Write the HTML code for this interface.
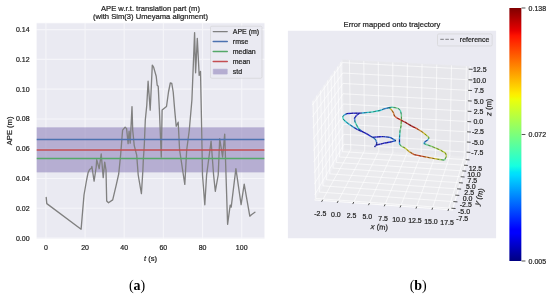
<!DOCTYPE html>
<html><head><meta charset="utf-8"><style>
html,body{margin:0;padding:0;background:#fff;}
body{width:550px;height:297px;overflow:hidden;}
svg{display:block;}
svg text{stroke:#262626;stroke-width:0.35px;stroke-linejoin:round;}
</style></head><body>
 <svg width="550" height="297" viewBox="0 0 866.141732 467.716535" version="1.1"> <defs> <style type="text/css">*{stroke-linejoin: round; stroke-linecap: butt}</style> </defs> <g id="figure_1"> <g id="patch_1"> <path d="M 0 467.716535 L 866.141732 467.716535 L 866.141732 0 L 0 0 z " style="fill: #ffffff"/> </g> <g id="axes_1"> <g id="patch_2"> <path d="M 57.007874 376.377953 L 417.165354 376.377953 L 417.165354 35.905512 L 57.007874 35.905512 z " style="fill: #eaeaf2"/> </g> <g id="matplotlib.axis_1"> <g id="xtick_1"> <g id="line2d_1"> <path d="M 72.283465 376.377953 L 72.283465 35.905512 " clip-path="url(#p8323243741)" style="fill: none; stroke: #f5f5f9; stroke-width: 1.7; stroke-linecap: round"/> </g> <g id="text_1"> <text style="font-size: 11px; font-family: 'Liberation Sans', sans-serif; text-anchor: middle; fill: #262626" x="72.283465" y="393.849515" transform="rotate(-0 72.283465 393.849515)">0</text> </g> </g> <g id="xtick_2"> <g id="line2d_2"> <path d="M 133.952756 376.377953 L 133.952756 35.905512 " clip-path="url(#p8323243741)" style="fill: none; stroke: #f5f5f9; stroke-width: 1.7; stroke-linecap: round"/> </g> <g id="text_2"> <text style="font-size: 11px; font-family: 'Liberation Sans', sans-serif; text-anchor: middle; fill: #262626" x="133.952756" y="393.849515" transform="rotate(-0 133.952756 393.849515)">20</text> </g> </g> <g id="xtick_3"> <g id="line2d_3"> <path d="M 195.622047 376.377953 L 195.622047 35.905512 " clip-path="url(#p8323243741)" style="fill: none; stroke: #f5f5f9; stroke-width: 1.7; stroke-linecap: round"/> </g> <g id="text_3"> <text style="font-size: 11px; font-family: 'Liberation Sans', sans-serif; text-anchor: middle; fill: #262626" x="195.622047" y="393.849515" transform="rotate(-0 195.622047 393.849515)">40</text> </g> </g> <g id="xtick_4"> <g id="line2d_4"> <path d="M 257.291339 376.377953 L 257.291339 35.905512 " clip-path="url(#p8323243741)" style="fill: none; stroke: #f5f5f9; stroke-width: 1.7; stroke-linecap: round"/> </g> <g id="text_4"> <text style="font-size: 11px; font-family: 'Liberation Sans', sans-serif; text-anchor: middle; fill: #262626" x="257.291339" y="393.849515" transform="rotate(-0 257.291339 393.849515)">60</text> </g> </g> <g id="xtick_5"> <g id="line2d_5"> <path d="M 318.96063 376.377953 L 318.96063 35.905512 " clip-path="url(#p8323243741)" style="fill: none; stroke: #f5f5f9; stroke-width: 1.7; stroke-linecap: round"/> </g> <g id="text_5"> <text style="font-size: 11px; font-family: 'Liberation Sans', sans-serif; text-anchor: middle; fill: #262626" x="318.96063" y="393.849515" transform="rotate(-0 318.96063 393.849515)">80</text> </g> </g> <g id="xtick_6"> <g id="line2d_6"> <path d="M 380.629921 376.377953 L 380.629921 35.905512 " clip-path="url(#p8323243741)" style="fill: none; stroke: #f5f5f9; stroke-width: 1.7; stroke-linecap: round"/> </g> <g id="text_6"> <text style="font-size: 11px; font-family: 'Liberation Sans', sans-serif; text-anchor: middle; fill: #262626" x="380.629921" y="393.849515" transform="rotate(-0 380.629921 393.849515)">100</text> </g> </g> <g id="text_7"> <!-- $t$ (s) --> <g style="fill: #262626" transform="translate(226.706614 411.292015)"> <text> <tspan x="0" y="-0.296875" style="font-style: italic; font-size: 12px; font-family: 'Liberation Sans', sans-serif; fill: #262626">t</tspan> <tspan x="3.333984" y="-0.296875" style="font-size: 12px; font-family: 'Liberation Sans', sans-serif; fill: #262626"> </tspan> <tspan x="6.667969" y="-0.296875" style="font-size: 12px; font-family: 'Liberation Sans', sans-serif; fill: #262626">(</tspan> <tspan x="10.664062" y="-0.296875" style="font-size: 12px; font-family: 'Liberation Sans', sans-serif; fill: #262626">s</tspan> <tspan x="16.664062" y="-0.296875" style="font-size: 12px; font-family: 'Liberation Sans', sans-serif; fill: #262626">)</tspan> </text> </g> </g> </g> <g id="matplotlib.axis_2"> <g id="ytick_1"> <g id="line2d_7"> <path d="M 57.007874 374.88189 L 417.165354 374.88189 " clip-path="url(#p8323243741)" style="fill: none; stroke: #f5f5f9; stroke-width: 1.7; stroke-linecap: round"/> </g> <g id="text_8"> <text style="font-size: 11px; font-family: 'Liberation Sans', sans-serif; text-anchor: end; fill: #262626" x="46.507874" y="378.867671" transform="rotate(-0 46.507874 378.867671)">0.00</text> </g> </g> <g id="ytick_2"> <g id="line2d_8"> <path d="M 57.007874 327.986502 L 417.165354 327.986502 " clip-path="url(#p8323243741)" style="fill: none; stroke: #f5f5f9; stroke-width: 1.7; stroke-linecap: round"/> </g> <g id="text_9"> <text style="font-size: 11px; font-family: 'Liberation Sans', sans-serif; text-anchor: end; fill: #262626" x="46.507874" y="331.972283" transform="rotate(-0 46.507874 331.972283)">0.02</text> </g> </g> <g id="ytick_3"> <g id="line2d_9"> <path d="M 57.007874 281.091114 L 417.165354 281.091114 " clip-path="url(#p8323243741)" style="fill: none; stroke: #f5f5f9; stroke-width: 1.7; stroke-linecap: round"/> </g> <g id="text_10"> <text style="font-size: 11px; font-family: 'Liberation Sans', sans-serif; text-anchor: end; fill: #262626" x="46.507874" y="285.076895" transform="rotate(-0 46.507874 285.076895)">0.04</text> </g> </g> <g id="ytick_4"> <g id="line2d_10"> <path d="M 57.007874 234.195726 L 417.165354 234.195726 " clip-path="url(#p8323243741)" style="fill: none; stroke: #f5f5f9; stroke-width: 1.7; stroke-linecap: round"/> </g> <g id="text_11"> <text style="font-size: 11px; font-family: 'Liberation Sans', sans-serif; text-anchor: end; fill: #262626" x="46.507874" y="238.181507" transform="rotate(-0 46.507874 238.181507)">0.06</text> </g> </g> <g id="ytick_5"> <g id="line2d_11"> <path d="M 57.007874 187.300337 L 417.165354 187.300337 " clip-path="url(#p8323243741)" style="fill: none; stroke: #f5f5f9; stroke-width: 1.7; stroke-linecap: round"/> </g> <g id="text_12"> <text style="font-size: 11px; font-family: 'Liberation Sans', sans-serif; text-anchor: end; fill: #262626" x="46.507874" y="191.286119" transform="rotate(-0 46.507874 191.286119)">0.08</text> </g> </g> <g id="ytick_6"> <g id="line2d_12"> <path d="M 57.007874 140.404949 L 417.165354 140.404949 " clip-path="url(#p8323243741)" style="fill: none; stroke: #f5f5f9; stroke-width: 1.7; stroke-linecap: round"/> </g> <g id="text_13"> <text style="font-size: 11px; font-family: 'Liberation Sans', sans-serif; text-anchor: end; fill: #262626" x="46.507874" y="144.390731" transform="rotate(-0 46.507874 144.390731)">0.10</text> </g> </g> <g id="ytick_7"> <g id="line2d_13"> <path d="M 57.007874 93.509561 L 417.165354 93.509561 " clip-path="url(#p8323243741)" style="fill: none; stroke: #f5f5f9; stroke-width: 1.7; stroke-linecap: round"/> </g> <g id="text_14"> <text style="font-size: 11px; font-family: 'Liberation Sans', sans-serif; text-anchor: end; fill: #262626" x="46.507874" y="97.495343" transform="rotate(-0 46.507874 97.495343)">0.12</text> </g> </g> <g id="ytick_8"> <g id="line2d_14"> <path d="M 57.007874 46.614173 L 417.165354 46.614173 " clip-path="url(#p8323243741)" style="fill: none; stroke: #f5f5f9; stroke-width: 1.7; stroke-linecap: round"/> </g> <g id="text_15"> <text style="font-size: 11px; font-family: 'Liberation Sans', sans-serif; text-anchor: end; fill: #262626" x="46.507874" y="50.599954" transform="rotate(-0 46.507874 50.599954)">0.14</text> </g> </g> <g id="text_16"> <text style="font-size: 12px; font-family: 'Liberation Sans', sans-serif; text-anchor: middle; fill: #262626" x="18.610843" y="206.141732" transform="rotate(-90 18.610843 206.141732)">APE (m)</text> </g> </g> <g id="patch_3"> <path d="M 57.007874 271.023622 L 417.165354 271.023622 L 417.165354 201.102362 L 57.007874 201.102362 z " clip-path="url(#p8323243741)" style="fill: #8172b2; opacity: 0.5; stroke: #8172b2; stroke-linejoin: miter"/> </g> <g id="line2d_15"> <path d="M 72.755906 310.866142 L 73.700787 320.629921 L 127.716535 360.944882 L 132.283465 307.086614 L 136.377953 283.464567 L 138.740157 271.811024 L 141.102362 266.929134 L 144.251969 264.566929 L 144.724409 262.204724 L 148.188976 285.354331 L 151.496063 262.992126 L 152.283465 251.338583 L 156.220472 265.669291 L 159.370079 242.519685 L 162.519685 279.685039 L 164.88189 255.275591 L 166.929134 267.716535 L 168.031496 316.535433 L 170.866142 319.370079 L 177.480315 314.80315 L 182.992126 291.653543 L 186.929134 274.015748 L 188.188976 261.732283 L 189.92126 244.251969 L 193.070866 204.88189 L 197.007874 200.15748 L 199.370079 202.519685 L 201.732283 226.299213 L 203.307087 206.456693 L 205.03937 225.511811 L 207.874016 167.874016 L 208.976378 204.88189 L 211.338583 228.818898 L 215.275591 244.251969 L 217.637795 275.590551 L 222.677165 305.03937 L 225.03937 267.716535 L 225.669291 252.283465 L 227.244094 228.346457 L 228.818898 188.976378 L 231.181102 165.511811 L 233.228346 127.874016 L 236.535433 173.543307 L 239.84252 102.519685 L 241.889764 105.669291 L 245.984252 120 L 247.559055 134.330709 L 249.133858 135.905512 L 251.023622 173.228346 L 254.015748 247.559055 L 255.275591 173.385827 L 262.204724 167.716535 L 265.354331 144.88189 L 268.188976 130.708661 L 270.551181 131.496063 L 272.755906 144.88189 L 275.11811 173.385827 L 277.480315 198.897638 L 280.629921 192.440945 L 282.834646 236.220472 L 291.023622 290.393701 L 294.015748 236.220472 L 298.110236 204.724409 L 302.204724 157.480315 L 306.456693 51.338583 L 308.031496 114.645669 L 310.708661 60.472441 L 313.700787 118.740157 L 315.748031 112.598425 L 317.637795 204.724409 L 318.897638 275.590551 L 322.519685 322.519685 L 325.354331 275.590551 L 332.440945 222.362205 L 336.377953 275.590551 L 339.055118 301.259843 L 343.622047 275.590551 L 345.984252 218.425197 L 350.551181 247.244094 L 353.858268 211.181102 L 358.425197 353.228346 L 362.519685 322.992126 L 364.094488 326.141732 L 371.496063 265.669291 L 379.685039 322.204724 L 384.566929 290.07874 L 393.385827 340.472441 L 395.905512 338.110236 L 401.417323 334.173228 " clip-path="url(#p8323243741)" style="fill: none; stroke: #808080; stroke-width: 2.1; stroke-linecap: round"/> </g> <g id="line2d_16"> <path d="M 57.007874 219.527559 L 417.165354 219.527559 " clip-path="url(#p8323243741)" style="fill: none; stroke: #4c72b0; stroke-width: 2.4; stroke-linecap: round"/> </g> <g id="line2d_17"> <path d="M 57.007874 249.76378 L 417.165354 249.76378 " clip-path="url(#p8323243741)" style="fill: none; stroke: #55a868; stroke-width: 2.4; stroke-linecap: round"/> </g> <g id="line2d_18"> <path d="M 57.007874 236.220472 L 417.165354 236.220472 " clip-path="url(#p8323243741)" style="fill: none; stroke: #c44e52; stroke-width: 2.4; stroke-linecap: round"/> </g> <g id="patch_4"> <path d="M 57.007874 376.377953 L 57.007874 35.905512 " style="fill: none; stroke: #ffffff; stroke-width: 1.25; stroke-linejoin: miter; stroke-linecap: square"/> </g> <g id="patch_5"> <path d="M 417.165354 376.377953 L 417.165354 35.905512 " style="fill: none; stroke: #ffffff; stroke-width: 1.25; stroke-linejoin: miter; stroke-linecap: square"/> </g> <g id="patch_6"> <path d="M 57.007874 376.377953 L 417.165354 376.377953 " style="fill: none; stroke: #ffffff; stroke-width: 1.25; stroke-linejoin: miter; stroke-linecap: square"/> </g> <g id="patch_7"> <path d="M 57.007874 35.905512 L 417.165354 35.905512 " style="fill: none; stroke: #ffffff; stroke-width: 1.25; stroke-linejoin: miter; stroke-linecap: square"/> </g> <g id="text_17"> <text style="font-size: 12px; font-family: 'Liberation Sans', sans-serif; fill: #262626" transform="translate(159.062239 16.980012)">APE w.r.t. translation part (m)</text> <text style="font-size: 12px; font-family: 'Liberation Sans', sans-serif; fill: #262626" transform="translate(146.403177 29.905512)">(with Sim(3) Umeyama alignment)</text> </g> <g id="legend_1"> <g id="patch_8"> <path d="M 333.645826 123.305588 L 410.401764 123.305588 Q 412.601764 123.305588 412.601764 121.105588 L 412.601764 43.435276 Q 412.601764 41.235276 410.401764 41.235276 L 333.645826 41.235276 Q 331.445826 41.235276 331.445826 43.435276 L 331.445826 121.105588 Q 331.445826 123.305588 333.645826 123.305588 z " style="fill: #eaeaf2; opacity: 0.8; stroke: #cccccc; stroke-linejoin: miter"/> </g> <g id="line2d_19"> <path d="M 335.845826 49.756838 L 346.845826 49.756838 L 357.845826 49.756838 " style="fill: none; stroke: #808080; stroke-width: 2.1; stroke-linecap: round"/> </g> <g id="text_18"> <text style="font-size: 11px; font-family: 'Liberation Sans', sans-serif; text-anchor: start; fill: #262626" x="366.645826" y="53.606838" transform="rotate(-0 366.645826 53.606838)">APE (m)</text> </g> <g id="line2d_20"> <path d="M 335.845826 65.510901 L 346.845826 65.510901 L 357.845826 65.510901 " style="fill: none; stroke: #4c72b0; stroke-width: 2.4; stroke-linecap: round"/> </g> <g id="text_19"> <text style="font-size: 11px; font-family: 'Liberation Sans', sans-serif; text-anchor: start; fill: #262626" x="366.645826" y="69.360901" transform="rotate(-0 366.645826 69.360901)">rmse</text> </g> <g id="line2d_21"> <path d="M 335.845826 81.264963 L 346.845826 81.264963 L 357.845826 81.264963 " style="fill: none; stroke: #55a868; stroke-width: 2.4; stroke-linecap: round"/> </g> <g id="text_20"> <text style="font-size: 11px; font-family: 'Liberation Sans', sans-serif; text-anchor: start; fill: #262626" x="366.645826" y="85.114963" transform="rotate(-0 366.645826 85.114963)">median</text> </g> <g id="line2d_22"> <path d="M 335.845826 97.019026 L 346.845826 97.019026 L 357.845826 97.019026 " style="fill: none; stroke: #c44e52; stroke-width: 2.4; stroke-linecap: round"/> </g> <g id="text_21"> <text style="font-size: 11px; font-family: 'Liberation Sans', sans-serif; text-anchor: start; fill: #262626" x="366.645826" y="100.869026" transform="rotate(-0 366.645826 100.869026)">mean</text> </g> <g id="patch_9"> <path d="M 335.845826 116.623088 L 357.845826 116.623088 L 357.845826 108.923088 L 335.845826 108.923088 z " style="fill: #8172b2; opacity: 0.5; stroke: #8172b2; stroke-linejoin: miter"/> </g> <g id="text_22"> <text style="font-size: 11px; font-family: 'Liberation Sans', sans-serif; text-anchor: start; fill: #262626" x="366.645826" y="116.623088" transform="rotate(-0 366.645826 116.623088)">std</text> </g> </g> </g> <g id="patch_10"> <path d="M 453.386 375.118 L 781.260 375.118 L 781.260 48.504 L 453.386 48.504 z" style="fill: #eaeaf2"/> </g> <g id="pane3d_1"> <g id="patch_11"> <path d="M 495.856117 314.954941 L 541.794834 234.666477 L 539.334642 94.247458 L 491.526607 160.786179 " style="fill: #f2f2f2; opacity: 0.5; stroke: #f2f2f2; stroke-linejoin: miter"/> </g> </g> <g id="pane3d_2"> <g id="patch_12"> <path d="M 541.794834 234.666477 L 736.777632 247.249135 L 740.383213 104.644501 L 539.334642 94.247458 " style="fill: #e6e6e6; opacity: 0.5; stroke: #e6e6e6; stroke-linejoin: miter"/> </g> </g> <g id="pane3d_3"> <g id="patch_13"> <path d="M 495.856117 314.954941 L 712.531051 330.592542 L 736.777632 247.249135 L 541.794834 234.666477 " style="fill: #ececec; opacity: 0.5; stroke: #ececec; stroke-linejoin: miter"/> </g> </g> <g id="grid3d_1"> <g id="Line3DCollection_1"> <path d="M 507.565978 315.80005 L 552.352603 235.347792 L 550.215209 94.810137 " style="fill: none; stroke: #ffffff"/> <path d="M 531.995956 317.563181 L 574.371547 236.768722 L 572.909452 95.983749 " style="fill: none; stroke: #ffffff"/> <path d="M 556.535582 319.334226 L 596.479181 238.195375 L 595.697931 97.162234 " style="fill: none; stroke: #ffffff"/> <path d="M 581.185595 321.113237 L 618.67604 239.627786 L 618.581235 98.345623 " style="fill: none; stroke: #ffffff"/> <path d="M 605.946743 322.900268 L 640.962666 241.06599 L 641.559956 99.533947 " style="fill: none; stroke: #ffffff"/> <path d="M 630.819778 324.695375 L 663.339604 242.510022 L 664.634693 100.727236 " style="fill: none; stroke: #ffffff"/> <path d="M 655.805461 326.498611 L 685.807405 243.959917 L 687.806048 101.925521 " style="fill: none; stroke: #ffffff"/> <path d="M 680.904558 328.310033 L 708.366623 245.415712 L 711.07463 103.128835 " style="fill: none; stroke: #ffffff"/> <path d="M 706.117844 330.129696 L 731.017817 246.877442 L 734.441052 104.337208 " style="fill: none; stroke: #ffffff"/> </g> </g> <g id="grid3d_2"> <g id="Line3DCollection_2"> <path d="M 492.97271 158.773508 L 497.240961 312.534606 L 713.263415 328.07517 " style="fill: none; stroke: #ffffff"/> <path d="M 498.97039 150.426 L 502.987706 302.49085 L 716.301574 317.632026 " style="fill: none; stroke: #ffffff"/> <path d="M 504.811309 142.29667 L 508.5891 292.701126 L 719.261407 307.458114 " style="fill: none; stroke: #ffffff"/> <path d="M 510.501533 134.377076 L 514.05059 283.155917 L 722.145904 297.543157 " style="fill: none; stroke: #ffffff"/> <path d="M 516.04682 126.659204 L 519.377353 273.846175 L 724.957905 287.877392 " style="fill: none; stroke: #ffffff"/> <path d="M 521.452637 119.135445 L 524.574313 264.763293 L 727.700109 278.451541 " style="fill: none; stroke: #ffffff"/> <path d="M 526.724181 111.798565 L 529.646158 255.89908 L 730.375084 269.256781 " style="fill: none; stroke: #ffffff"/> <path d="M 531.866394 104.641687 L 534.597351 247.245731 L 732.985271 260.284716 " style="fill: none; stroke: #ffffff"/> <path d="M 536.883976 97.658268 L 539.432149 238.795812 L 735.532996 251.527354 " style="fill: none; stroke: #ffffff"/> </g> </g> <g id="grid3d_3"> <g id="Line3DCollection_3"> <path d="M 736.96822 239.711167 L 541.664722 227.240182 L 495.627902 306.828489 " style="fill: none; stroke: #ffffff"/> <path d="M 737.371203 223.772764 L 541.389638 211.539322 L 495.145127 289.637432 " style="fill: none; stroke: #ffffff"/> <path d="M 737.777014 207.722494 L 541.112656 195.730207 L 494.658641 272.314245 " style="fill: none; stroke: #ffffff"/> <path d="M 738.185683 191.559175 L 540.833758 179.811713 L 494.168402 254.857397 " style="fill: none; stroke: #ffffff"/> <path d="M 738.597241 175.281609 L 540.552924 163.782703 L 493.674365 237.265336 " style="fill: none; stroke: #ffffff"/> <path d="M 739.011719 158.888579 L 540.270134 147.64202 L 493.176487 219.536484 " style="fill: none; stroke: #ffffff"/> <path d="M 739.429147 142.378853 L 539.985366 131.388495 L 492.674723 201.669239 " style="fill: none; stroke: #ffffff"/> <path d="M 739.849557 125.75118 L 539.6986 115.020938 L 492.169026 183.661976 " style="fill: none; stroke: #ffffff"/> <path d="M 740.272981 109.004292 L 539.409816 98.538147 L 491.659351 165.513041 " style="fill: none; stroke: #ffffff"/> </g> </g> <g id="axis3d_1"> <g id="line2d_23"> <path d="M 495.856117 314.954941 L 712.531051 330.592542 " style="fill: none; stroke: #ffffff; stroke-width: 1.25; stroke-linecap: round"/> </g> <g id="xtick_7"> <g id="line2d_24"> <path d="M 621.734412 206.690785 " clip-path="url(#p8fb34b0096)" style="fill: none; stroke: #ffffff; stroke-linecap: round"/> </g> <g id="line2d_25"> <path d="M 507.964681 315.083842 L 506.76639 317.236386 " style="fill: none; stroke: #262626; stroke-width: 1.25; stroke-linecap: round"/> </g> <g id="text_23"> <text style="font-size: 11px; font-family: 'Liberation Sans', sans-serif; text-anchor: middle; fill: #262626" x="504.432077" y="340.010138" transform="rotate(-0 504.432077 340.010138)">-2.5</text> </g> </g> <g id="xtick_8"> <g id="line2d_26"> <path d="M 621.734412 206.690785 " clip-path="url(#p8fb34b0096)" style="fill: none; stroke: #ffffff; stroke-linecap: round"/> </g> <g id="line2d_27"> <path d="M 532.373281 316.843764 L 531.239237 319.005962 " style="fill: none; stroke: #262626; stroke-width: 1.25; stroke-linecap: round"/> </g> <g id="text_24"> <text style="font-size: 11px; font-family: 'Liberation Sans', sans-serif; text-anchor: middle; fill: #262626" x="528.989059" y="341.819503" transform="rotate(-0 528.989059 341.819503)">0.0</text> </g> </g> <g id="xtick_9"> <g id="line2d_28"> <path d="M 621.734412 206.690785 " clip-path="url(#p8fb34b0096)" style="fill: none; stroke: #ffffff; stroke-linecap: round"/> </g> <g id="line2d_29"> <path d="M 556.891332 318.611577 L 555.822125 320.783495 " style="fill: none; stroke: #262626; stroke-width: 1.25; stroke-linecap: round"/> </g> <g id="text_25"> <text style="font-size: 11px; font-family: 'Liberation Sans', sans-serif; text-anchor: middle; fill: #262626" x="553.656866" y="343.637034" transform="rotate(-0 553.656866 343.637034)">2.5</text> </g> </g> <g id="xtick_10"> <g id="line2d_30"> <path d="M 621.734412 206.690785 " clip-path="url(#p8fb34b0096)" style="fill: none; stroke: #ffffff; stroke-linecap: round"/> </g> <g id="line2d_31"> <path d="M 581.519574 320.387335 L 580.515799 322.569039 " style="fill: none; stroke: #262626; stroke-width: 1.25; stroke-linecap: round"/> </g> <g id="text_26"> <text style="font-size: 11px; font-family: 'Liberation Sans', sans-serif; text-anchor: middle; fill: #262626" x="578.436249" y="345.462786" transform="rotate(-0 578.436249 345.462786)">5.0</text> </g> </g> <g id="xtick_11"> <g id="line2d_32"> <path d="M 621.734412 206.690785 " clip-path="url(#p8fb34b0096)" style="fill: none; stroke: #ffffff; stroke-linecap: round"/> </g> <g id="line2d_33"> <path d="M 606.258749 322.171092 L 605.321008 324.362648 " style="fill: none; stroke: #262626; stroke-width: 1.25; stroke-linecap: round"/> </g> <g id="text_27"> <text style="font-size: 11px; font-family: 'Liberation Sans', sans-serif; text-anchor: middle; fill: #262626" x="603.327967" y="347.296814" transform="rotate(-0 603.327967 347.296814)">7.5</text> </g> </g> <g id="xtick_12"> <g id="line2d_34"> <path d="M 621.734412 206.690785 " clip-path="url(#p8fb34b0096)" style="fill: none; stroke: #ffffff; stroke-linecap: round"/> </g> <g id="line2d_35"> <path d="M 631.10961 323.962901 L 630.238511 326.164376 " style="fill: none; stroke: #262626; stroke-width: 1.25; stroke-linecap: round"/> </g> <g id="text_28"> <text style="font-size: 11px; font-family: 'Liberation Sans', sans-serif; text-anchor: middle; fill: #262626" x="628.332785" y="349.139176" transform="rotate(-0 628.332785 349.139176)">10.0</text> </g> </g> <g id="xtick_13"> <g id="line2d_36"> <path d="M 621.734412 206.690785 " clip-path="url(#p8fb34b0096)" style="fill: none; stroke: #ffffff; stroke-linecap: round"/> </g> <g id="line2d_37"> <path d="M 656.072914 325.762818 L 655.269071 327.974279 " style="fill: none; stroke: #262626; stroke-width: 1.25; stroke-linecap: round"/> </g> <g id="text_29"> <text style="font-size: 11px; font-family: 'Liberation Sans', sans-serif; text-anchor: middle; fill: #262626" x="653.451475" y="350.989928" transform="rotate(-0 653.451475 350.989928)">12.5</text> </g> </g> <g id="xtick_14"> <g id="line2d_38"> <path d="M 621.734412 206.690785 " clip-path="url(#p8fb34b0096)" style="fill: none; stroke: #ffffff; stroke-linecap: round"/> </g> <g id="line2d_39"> <path d="M 681.149426 327.570898 L 680.41346 329.792413 " style="fill: none; stroke: #262626; stroke-width: 1.25; stroke-linecap: round"/> </g> <g id="text_30"> <text style="font-size: 11px; font-family: 'Liberation Sans', sans-serif; text-anchor: middle; fill: #262626" x="678.684818" y="352.849128" transform="rotate(-0 678.684818 352.849128)">15.0</text> </g> </g> <g id="xtick_15"> <g id="line2d_40"> <path d="M 621.734412 206.690785 " clip-path="url(#p8fb34b0096)" style="fill: none; stroke: #ffffff; stroke-linecap: round"/> </g> <g id="line2d_41"> <path d="M 706.339919 329.387195 L 705.672457 331.618834 " style="fill: none; stroke: #262626; stroke-width: 1.25; stroke-linecap: round"/> </g> <g id="text_31"> <text style="font-size: 11px; font-family: 'Liberation Sans', sans-serif; text-anchor: middle; fill: #262626" x="704.033601" y="354.716833" transform="rotate(-0 704.033601 354.716833)">17.5</text> </g> </g> <g id="text_32"> <!-- $x$ (m) --> <g style="fill: #262626" transform="translate(583.49544 360.751761) rotate(-355.872075)"> <text> <tspan x="0" y="-0.296875" style="font-style: italic; font-size: 12px; font-family: 'Liberation Sans', sans-serif; fill: #262626">x</tspan> <tspan x="6" y="-0.296875" style="font-size: 12px; font-family: 'Liberation Sans', sans-serif; fill: #262626"> </tspan> <tspan x="9.333984" y="-0.296875" style="font-size: 12px; font-family: 'Liberation Sans', sans-serif; fill: #262626">(</tspan> <tspan x="13.330078" y="-0.296875" style="font-size: 12px; font-family: 'Liberation Sans', sans-serif; fill: #262626">m</tspan> <tspan x="23.326172" y="-0.296875" style="font-size: 12px; font-family: 'Liberation Sans', sans-serif; fill: #262626">)</tspan> </text> </g> </g> </g> <g id="axis3d_2"> <g id="line2d_42"> <path d="M 736.777632 247.249135 L 712.531051 330.592542 " style="fill: none; stroke: #ffffff; stroke-width: 1.25; stroke-linecap: round"/> </g> <g id="xtick_16"> <g id="line2d_43"> <path d="M 621.734412 206.690785 " clip-path="url(#p8fb34b0096)" style="fill: none; stroke: #ffffff; stroke-linecap: round"/> </g> <g id="line2d_44"> <path d="M 711.501265 327.948402 L 716.78939 328.328827 " style="fill: none; stroke: #262626; stroke-width: 1.25; stroke-linecap: round"/> </g> <g id="text_33"> <text style="font-size: 11px; font-family: 'Liberation Sans', sans-serif; text-anchor: middle; fill: #262626" x="727.940556" y="347.326666" transform="rotate(-0 727.940556 347.326666)">-7.5</text> </g> </g> <g id="xtick_17"> <g id="line2d_45"> <path d="M 621.734412 206.690785 " clip-path="url(#p8fb34b0096)" style="fill: none; stroke: #ffffff; stroke-linecap: round"/> </g> <g id="line2d_46"> <path d="M 714.561957 317.508546 L 719.782441 317.8791 " style="fill: none; stroke: #262626; stroke-width: 1.25; stroke-linecap: round"/> </g> <g id="text_34"> <text style="font-size: 11px; font-family: 'Liberation Sans', sans-serif; text-anchor: middle; fill: #262626" x="730.784395" y="336.746098" transform="rotate(-0 730.784395 336.746098)">-5.0</text> </g> </g> <g id="xtick_18"> <g id="line2d_47"> <path d="M 621.734412 206.690785 " clip-path="url(#p8fb34b0096)" style="fill: none; stroke: #ffffff; stroke-linecap: round"/> </g> <g id="line2d_48"> <path d="M 717.543754 307.337798 L 722.698305 307.698859 " style="fill: none; stroke: #262626; stroke-width: 1.25; stroke-linecap: round"/> </g> <g id="text_35"> <text style="font-size: 11px; font-family: 'Liberation Sans', sans-serif; text-anchor: middle; fill: #262626" x="733.554984" y="326.438056" transform="rotate(-0 733.554984 326.438056)">-2.5</text> </g> </g> <g id="xtick_19"> <g id="line2d_49"> <path d="M 621.734412 206.690785 " clip-path="url(#p8fb34b0096)" style="fill: none; stroke: #ffffff; stroke-linecap: round"/> </g> <g id="line2d_50"> <path d="M 720.449667 297.425883 L 725.539929 297.777813 " style="fill: none; stroke: #262626; stroke-width: 1.25; stroke-linecap: round"/> </g> <g id="text_36"> <text style="font-size: 11px; font-family: 'Liberation Sans', sans-serif; text-anchor: middle; fill: #262626" x="736.255119" y="316.392143" transform="rotate(-0 736.255119 316.392143)">0.0</text> </g> </g> <g id="xtick_20"> <g id="line2d_51"> <path d="M 621.734412 206.690785 " clip-path="url(#p8fb34b0096)" style="fill: none; stroke: #ffffff; stroke-linecap: round"/> </g> <g id="line2d_52"> <path d="M 723.282557 287.763047 L 728.310114 288.106186 " style="fill: none; stroke: #262626; stroke-width: 1.25; stroke-linecap: round"/> </g> <g id="text_37"> <text style="font-size: 11px; font-family: 'Liberation Sans', sans-serif; text-anchor: middle; fill: #262626" x="738.887452" y="306.598486" transform="rotate(-0 738.887452 306.598486)">2.5</text> </g> </g> <g id="xtick_21"> <g id="line2d_53"> <path d="M 621.734412 206.690785 " clip-path="url(#p8fb34b0096)" style="fill: none; stroke: #ffffff; stroke-linecap: round"/> </g> <g id="line2d_54"> <path d="M 726.045143 278.340016 L 731.011519 278.67469 " style="fill: none; stroke: #262626; stroke-width: 1.25; stroke-linecap: round"/> </g> <g id="text_38"> <text style="font-size: 11px; font-family: 'Liberation Sans', sans-serif; text-anchor: middle; fill: #262626" x="741.454506" y="297.047703" transform="rotate(-0 741.454506 297.047703)">5.0</text> </g> </g> <g id="xtick_22"> <g id="line2d_55"> <path d="M 621.734412 206.690785 " clip-path="url(#p8fb34b0096)" style="fill: none; stroke: #ffffff; stroke-linecap: round"/> </g> <g id="line2d_56"> <path d="M 728.740009 269.147973 L 733.646675 269.474492 " style="fill: none; stroke: #262626; stroke-width: 1.25; stroke-linecap: round"/> </g> <g id="text_39"> <text style="font-size: 11px; font-family: 'Liberation Sans', sans-serif; text-anchor: middle; fill: #262626" x="743.958679" y="287.730868" transform="rotate(-0 743.958679 287.730868)">7.5</text> </g> </g> <g id="xtick_23"> <g id="line2d_57"> <path d="M 621.734412 206.690785 " clip-path="url(#p8fb34b0096)" style="fill: none; stroke: #ffffff; stroke-linecap: round"/> </g> <g id="line2d_58"> <path d="M 731.369615 260.178528 L 736.21799 260.497186 " style="fill: none; stroke: #262626; stroke-width: 1.25; stroke-linecap: round"/> </g> <g id="text_40"> <text style="font-size: 11px; font-family: 'Liberation Sans', sans-serif; text-anchor: middle; fill: #262626" x="746.402254" y="278.639491" transform="rotate(-0 746.402254 278.639491)">10.0</text> </g> </g> <g id="xtick_24"> <g id="line2d_59"> <path d="M 621.734412 206.690785 " clip-path="url(#p8fb34b0096)" style="fill: none; stroke: #ffffff; stroke-linecap: round"/> </g> <g id="line2d_60"> <path d="M 733.936304 251.423691 L 738.727755 251.734769 " style="fill: none; stroke: #262626; stroke-width: 1.25; stroke-linecap: round"/> </g> <g id="text_41"> <text style="font-size: 11px; font-family: 'Liberation Sans', sans-serif; text-anchor: middle; fill: #262626" x="748.787404" y="269.765484" transform="rotate(-0 748.787404 269.765484)">12.5</text> </g> </g> <g id="text_42"> <!-- $y$ (m) --> <g style="fill: #262626" transform="translate(754.692748 323.952877) rotate(-73.779029)"> <text> <tspan x="0" y="-0.296875" style="font-style: italic; font-size: 12px; font-family: 'Liberation Sans', sans-serif; fill: #262626">y</tspan> <tspan x="6" y="-0.296875" style="font-size: 12px; font-family: 'Liberation Sans', sans-serif; fill: #262626"> </tspan> <tspan x="9.333984" y="-0.296875" style="font-size: 12px; font-family: 'Liberation Sans', sans-serif; fill: #262626">(</tspan> <tspan x="13.330078" y="-0.296875" style="font-size: 12px; font-family: 'Liberation Sans', sans-serif; fill: #262626">m</tspan> <tspan x="23.326172" y="-0.296875" style="font-size: 12px; font-family: 'Liberation Sans', sans-serif; fill: #262626">)</tspan> </text> </g> </g> </g> <g id="axis3d_3"> <g id="line2d_61"> <path d="M 736.777632 247.249135 L 740.383213 104.644501 " style="fill: none; stroke: #ffffff; stroke-width: 1.25; stroke-linecap: round"/> </g> <g id="xtick_25"> <g id="line2d_62"> <path d="M 621.734412 206.690785 " style="fill: none; stroke: #ffffff; stroke-linecap: round"/> </g> <g id="line2d_63"> <path d="M 735.378138 239.609633 L 740.149746 239.914321 " style="fill: none; stroke: #262626; stroke-width: 1.25; stroke-linecap: round"/> </g> <g id="text_43"> <text style="font-size: 11px; font-family: 'Liberation Sans', sans-serif; text-anchor: middle; fill: #262626" x="751.797518" y="243.558666" transform="rotate(-0 751.797518 243.558666)">-7.5</text> </g> </g> <g id="xtick_26"> <g id="line2d_64"> <path d="M 621.734412 206.690785 " style="fill: none; stroke: #ffffff; stroke-linecap: round"/> </g> <g id="line2d_65"> <path d="M 735.775503 223.673158 L 740.563973 223.972061 " style="fill: none; stroke: #262626; stroke-width: 1.25; stroke-linecap: round"/> </g> <g id="text_44"> <text style="font-size: 11px; font-family: 'Liberation Sans', sans-serif; text-anchor: middle; fill: #262626" x="752.249714" y="227.698651" transform="rotate(-0 752.249714 227.698651)">-5.0</text> </g> </g> <g id="xtick_27"> <g id="line2d_66"> <path d="M 621.734412 206.690785 " style="fill: none; stroke: #ffffff; stroke-linecap: round"/> </g> <g id="line2d_67"> <path d="M 736.175657 207.624846 L 740.981109 207.917875 " style="fill: none; stroke: #262626; stroke-width: 1.25; stroke-linecap: round"/> </g> <g id="text_45"> <text style="font-size: 11px; font-family: 'Liberation Sans', sans-serif; text-anchor: middle; fill: #262626" x="752.705065" y="211.727968" transform="rotate(-0 752.705065 211.727968)">-2.5</text> </g> </g> <g id="xtick_28"> <g id="line2d_68"> <path d="M 621.734412 206.690785 " style="fill: none; stroke: #ffffff; stroke-linecap: round"/> </g> <g id="line2d_69"> <path d="M 736.578629 191.463515 L 741.401184 191.75058 " style="fill: none; stroke: #262626; stroke-width: 1.25; stroke-linecap: round"/> </g> <g id="text_46"> <text style="font-size: 11px; font-family: 'Liberation Sans', sans-serif; text-anchor: middle; fill: #262626" x="753.163605" y="195.645457" transform="rotate(-0 753.163605 195.645457)">0.0</text> </g> </g> <g id="xtick_29"> <g id="line2d_70"> <path d="M 621.734412 206.690785 " style="fill: none; stroke: #ffffff; stroke-linecap: round"/> </g> <g id="line2d_71"> <path d="M 736.984448 175.187966 L 741.824228 175.468975 " style="fill: none; stroke: #262626; stroke-width: 1.25; stroke-linecap: round"/> </g> <g id="text_47"> <text style="font-size: 11px; font-family: 'Liberation Sans', sans-serif; text-anchor: middle; fill: #262626" x="753.625366" y="179.449937" transform="rotate(-0 753.625366 179.449937)">2.5</text> </g> </g> <g id="xtick_30"> <g id="line2d_72"> <path d="M 621.734412 206.690785 " style="fill: none; stroke: #ffffff; stroke-linecap: round"/> </g> <g id="line2d_73"> <path d="M 737.393146 158.796986 L 742.250274 159.071845 " style="fill: none; stroke: #262626; stroke-width: 1.25; stroke-linecap: round"/> </g> <g id="text_48"> <text style="font-size: 11px; font-family: 'Liberation Sans', sans-serif; text-anchor: middle; fill: #262626" x="754.090384" y="163.140213" transform="rotate(-0 754.090384 163.140213)">5.0</text> </g> </g> <g id="xtick_31"> <g id="line2d_74"> <path d="M 621.734412 206.690785 " style="fill: none; stroke: #ffffff; stroke-linecap: round"/> </g> <g id="line2d_75"> <path d="M 737.804753 142.289341 L 742.679355 142.557956 " style="fill: none; stroke: #262626; stroke-width: 1.25; stroke-linecap: round"/> </g> <g id="text_49"> <text style="font-size: 11px; font-family: 'Liberation Sans', sans-serif; text-anchor: middle; fill: #262626" x="754.558693" y="146.715074" transform="rotate(-0 754.558693 146.715074)">7.5</text> </g> </g> <g id="xtick_32"> <g id="line2d_76"> <path d="M 621.734412 206.690785 " style="fill: none; stroke: #ffffff; stroke-linecap: round"/> </g> <g id="line2d_77"> <path d="M 738.2193 125.663781 L 743.111501 125.926055 " style="fill: none; stroke: #262626; stroke-width: 1.25; stroke-linecap: round"/> </g> <g id="text_50"> <text style="font-size: 11px; font-family: 'Liberation Sans', sans-serif; text-anchor: middle; fill: #262626" x="755.030327" y="130.173289" transform="rotate(-0 755.030327 130.173289)">10.0</text> </g> </g> <g id="xtick_33"> <g id="line2d_78"> <path d="M 621.734412 206.690785 " style="fill: none; stroke: #ffffff; stroke-linecap: round"/> </g> <g id="line2d_79"> <path d="M 738.636819 108.919039 L 743.546747 109.174874 " style="fill: none; stroke: #262626; stroke-width: 1.25; stroke-linecap: round"/> </g> <g id="text_51"> <text style="font-size: 11px; font-family: 'Liberation Sans', sans-serif; text-anchor: middle; fill: #262626" x="755.505323" y="113.513613" transform="rotate(-0 755.505323 113.513613)">12.5</text> </g> </g> <g id="text_52"> <!-- $z$ (m) --> <g style="fill: #262626" transform="translate(773.760082 182.570881) rotate(-88.551656)"> <text> <tspan x="0" y="-0.296875" style="font-style: italic; font-size: 12px; font-family: 'Liberation Sans', sans-serif; fill: #262626">z</tspan> <tspan x="6" y="-0.296875" style="font-size: 12px; font-family: 'Liberation Sans', sans-serif; fill: #262626"> </tspan> <tspan x="9.333984" y="-0.296875" style="font-size: 12px; font-family: 'Liberation Sans', sans-serif; fill: #262626">(</tspan> <tspan x="13.330078" y="-0.296875" style="font-size: 12px; font-family: 'Liberation Sans', sans-serif; fill: #262626">m</tspan> <tspan x="23.326172" y="-0.296875" style="font-size: 12px; font-family: 'Liberation Sans', sans-serif; fill: #262626">)</tspan> </text> </g> </g> </g> <g id="axes_2"> <g id="line2d_80"/> <g id="text_53"> <text style="font-size: 12px; font-family: 'Liberation Sans', sans-serif; text-anchor: middle; fill: #262626" x="617.322835" y="41.874016" transform="rotate(-0 617.322835 41.874016)">Error mapped onto trajectory</text> </g> <g id="legend_2"> <g id="patch_14"> <path d="M 691.184775 72.428078 L 772.851181 72.428078 Q 775.051181 72.428078 775.051181 70.228078 L 775.051181 55.574016 Q 775.051181 53.374016 772.851181 53.374016 L 691.184775 53.374016 Q 688.984775 53.374016 688.984775 55.574016 L 688.984775 70.228078 Q 688.984775 72.428078 691.184775 72.428078 z " style="fill: #eaeaf2; opacity: 0.8; stroke: #cccccc; stroke-linejoin: miter"/> </g> <g id="line2d_81"> <path d="M 693.384775 61.895578 L 704.384775 61.895578 L 715.384775 61.895578 " style="fill: none; stroke-dasharray: 5.55,2.4; stroke-dashoffset: 0; stroke: #000000; stroke-opacity: 0.5; stroke-width: 1.5"/> </g> <g id="text_54"> <text style="font-size: 11px; font-family: 'Liberation Sans', sans-serif; text-anchor: start; fill: #262626" x="724.184775" y="65.745578" transform="rotate(-0 724.184775 65.745578)">reference</text> </g> </g> </g> <g id="axes_3"> <g id="patch_15"> <path d="M 802.204724 411.023622 L 821.417323 411.023622 L 821.417323 12.598425 L 802.204724 12.598425 z " style="fill: #eaeaf2"/> </g> <g id="matplotlib.axis_3"/> <g id="matplotlib.axis_4"> <g id="ytick_9"> <g id="line2d_82"> <path d="M 802.204724 411.023622 L 821.417323 411.023622 " clip-path="url(#p99f4764aa0)" style="fill: none; stroke: #ffffff; stroke-linecap: round"/> </g> <g id="line2d_83"> <g> <path d="M 821.4173 411.0236 L 827.4173 411.0236" style="fill: #262626; stroke: #262626; stroke-width: 1.25"/> </g> </g> <g id="text_55"> <text style="font-size: 11px; font-family: 'Liberation Sans', sans-serif; text-anchor: start; fill: #262626" x="832.417323" y="415.009403" transform="rotate(-0 832.417323 415.009403)">0.005</text> </g> </g> <g id="ytick_10"> <g id="line2d_84"> <path d="M 802.204724 211.811024 L 821.417323 211.811024 " clip-path="url(#p99f4764aa0)" style="fill: none; stroke: #ffffff; stroke-linecap: round"/> </g> <g id="line2d_85"> <g> <path d="M 821.4173 211.8110 L 827.4173 211.8110" style="fill: #262626; stroke: #262626; stroke-width: 1.25"/> </g> </g> <g id="text_56"> <text style="font-size: 11px; font-family: 'Liberation Sans', sans-serif; text-anchor: start; fill: #262626" x="832.417323" y="215.796805" transform="rotate(-0 832.417323 215.796805)">0.072</text> </g> </g> <g id="ytick_11"> <g id="line2d_86"> <path d="M 802.204724 12.598425 L 821.417323 12.598425 " clip-path="url(#p99f4764aa0)" style="fill: none; stroke: #ffffff; stroke-linecap: round"/> </g> <g id="line2d_87"> <g> <path d="M 821.4173 12.5984 L 827.4173 12.5984" style="fill: #262626; stroke: #262626; stroke-width: 1.25"/> </g> </g> <g id="text_57"> <text style="font-size: 11px; font-family: 'Liberation Sans', sans-serif; text-anchor: start; fill: #262626" x="832.417323" y="16.584206" transform="rotate(-0 832.417323 16.584206)">0.138</text> </g> </g> </g> <defs><linearGradient id="jetg" x1="0" y1="1" x2="0" y2="0"><stop offset="0" stop-color="#000080"/><stop offset="0.11" stop-color="#0000ff"/><stop offset="0.125" stop-color="#0000ff"/><stop offset="0.34" stop-color="#00dcfe"/><stop offset="0.35" stop-color="#00e4f8"/><stop offset="0.375" stop-color="#16ffe1"/><stop offset="0.64" stop-color="#eeff09"/><stop offset="0.65" stop-color="#f8f500"/><stop offset="0.66" stop-color="#feed00"/><stop offset="0.89" stop-color="#ff1300"/><stop offset="0.91" stop-color="#e80000"/><stop offset="1" stop-color="#800000"/></linearGradient></defs><rect x="802.204724" y="12.598425" width="18.740158" height="398.425197" fill="url(#jetg)"/> <g id="LineCollection_1"/> </g> </g> <defs> <clipPath id="p8323243741"> <rect x="57.007874" y="35.905512" width="360.15748" height="340.472441"/> </clipPath> <clipPath id="p8fb34b0096"> <rect x="454.094488" y="47.874016" width="326.456693" height="326.456693"/> </clipPath> <clipPath id="p99f4764aa0"> <rect x="802.204724" y="12.598425" width="19.212598" height="398.425197"/> </clipPath> </defs> <g transform="scale(1.574803)" fill="none" stroke-linecap="round" stroke-linejoin="round">
<path d="M389.10 107.70L387.73 108.00" stroke="#2298d5" stroke-width="1.35"/>
<path d="M387.73 108.00L386.37 108.30" stroke="#228dd5" stroke-width="1.35"/>
<path d="M386.37 108.30L385.00 108.60" stroke="#2282d5" stroke-width="1.35"/>
<path d="M385.00 108.60L383.33 109.23" stroke="#2288d5" stroke-width="1.35"/>
<path d="M383.33 109.23L381.67 109.87" stroke="#22a4d5" stroke-width="1.35"/>
<path d="M381.67 109.87L380.00 110.50" stroke="#22bdd4" stroke-width="1.35"/>
<path d="M380.00 110.50L377.13 111.03" stroke="#2bcec7" stroke-width="1.35"/>
<path d="M377.13 111.03L374.27 111.57" stroke="#2dd0c4" stroke-width="1.35"/>
<path d="M374.27 111.57L371.40 112.10" stroke="#32d5c0" stroke-width="1.35"/>
<path d="M371.40 112.10L368.37 112.40" stroke="#2bcec7" stroke-width="1.35"/>
<path d="M368.37 112.40L365.33 112.70" stroke="#22bdd4" stroke-width="1.35"/>
<path d="M365.33 112.70L362.30 113.00" stroke="#22a9d5" stroke-width="1.35"/>
<path d="M362.30 113.00L361.37 113.07" stroke="#228ad5" stroke-width="1.35"/>
<path d="M361.37 113.07L360.43 113.13" stroke="#225ed5" stroke-width="1.35"/>
<path d="M360.43 113.13L359.50 113.20" stroke="#2234d5" stroke-width="1.35"/>
<path d="M359.50 113.20L357.40 113.20" stroke="#2222d5" stroke-width="1.35"/>
<path d="M357.40 113.20L355.30 113.20" stroke="#2222d5" stroke-width="1.35"/>
<path d="M355.30 113.20L353.20 113.20" stroke="#2222ce" stroke-width="1.35"/>
<path d="M353.20 113.20L351.07 113.33" stroke="#2222d2" stroke-width="1.35"/>
<path d="M351.07 113.33L348.93 113.47" stroke="#2223d5" stroke-width="1.35"/>
<path d="M348.93 113.47L346.80 113.60" stroke="#222ed5" stroke-width="1.35"/>
<path d="M346.80 113.60L345.90 114.07" stroke="#224ad5" stroke-width="1.35"/>
<path d="M345.90 114.07L345.00 114.53" stroke="#2274d5" stroke-width="1.35"/>
<path d="M345.00 114.53L344.10 115.00" stroke="#229ed5" stroke-width="1.35"/>
<path d="M344.10 115.00L343.63 115.60" stroke="#22bad5" stroke-width="1.35"/>
<path d="M343.63 115.60L343.17 116.20" stroke="#22c2d0" stroke-width="1.35"/>
<path d="M343.17 116.20L342.70 116.80" stroke="#2bcec7" stroke-width="1.35"/>
<path d="M342.70 116.80L342.87 117.57" stroke="#2fd3c2" stroke-width="1.35"/>
<path d="M342.87 117.57L343.03 118.33" stroke="#32d5c0" stroke-width="1.35"/>
<path d="M343.03 118.33L343.20 119.10" stroke="#32d5c0" stroke-width="1.35"/>
<path d="M343.20 119.10L344.10 120.00" stroke="#32d5c0" stroke-width="1.35"/>
<path d="M344.10 120.00L345.00 120.90" stroke="#2bcec7" stroke-width="1.35"/>
<path d="M345.00 120.90L345.90 121.80" stroke="#24c5cd" stroke-width="1.35"/>
<path d="M345.90 121.80L347.10 122.70" stroke="#22c0d2" stroke-width="1.35"/>
<path d="M347.10 122.70L348.30 123.60" stroke="#22b7d5" stroke-width="1.35"/>
<path d="M348.30 123.60L349.50 124.50" stroke="#22b2d5" stroke-width="1.35"/>
<path d="M349.50 124.50L350.73 125.33" stroke="#22a9d5" stroke-width="1.35"/>
<path d="M350.73 125.33L351.97 126.17" stroke="#229ed5" stroke-width="1.35"/>
<path d="M351.97 126.17L353.20 127.00" stroke="#2296d5" stroke-width="1.35"/>
<path d="M353.20 127.00L354.57 127.83" stroke="#227cd5" stroke-width="1.35"/>
<path d="M354.57 127.83L355.93 128.67" stroke="#2258d5" stroke-width="1.35"/>
<path d="M355.93 128.67L357.30 129.50" stroke="#2231d5" stroke-width="1.35"/>
<path d="M357.30 129.50L358.80 130.13" stroke="#2222d5" stroke-width="1.35"/>
<path d="M358.80 130.13L360.30 130.77" stroke="#2222cb" stroke-width="1.35"/>
<path d="M360.30 130.77L361.80 131.40" stroke="#2222c2" stroke-width="1.35"/>
<path d="M361.80 131.40L363.33 132.13" stroke="#2222be" stroke-width="1.35"/>
<path d="M363.33 132.13L364.87 132.87" stroke="#2222c5" stroke-width="1.35"/>
<path d="M364.87 132.87L366.40 133.60" stroke="#2222c8" stroke-width="1.35"/>
<path d="M366.40 133.60L367.60 134.37" stroke="#2222d2" stroke-width="1.35"/>
<path d="M367.60 134.37L368.80 135.13" stroke="#2223d5" stroke-width="1.35"/>
<path d="M368.80 135.13L370.00 135.90" stroke="#222ed5" stroke-width="1.35"/>
<path d="M370.00 135.90L370.90 136.37" stroke="#2239d5" stroke-width="1.35"/>
<path d="M370.90 136.37L371.80 136.83" stroke="#2244d5" stroke-width="1.35"/>
<path d="M371.80 136.83L372.70 137.30" stroke="#2252d5" stroke-width="1.35"/>
<path d="M372.70 137.30L373.63 138.03" stroke="#2263d5" stroke-width="1.35"/>
<path d="M373.63 138.03L374.57 138.77" stroke="#227cd5" stroke-width="1.35"/>
<path d="M374.57 138.77L375.50 139.50" stroke="#2293d5" stroke-width="1.35"/>
<path d="M375.50 139.50L375.93 140.57" stroke="#2290d5" stroke-width="1.35"/>
<path d="M375.93 140.57L376.37 141.63" stroke="#2274d5" stroke-width="1.35"/>
<path d="M376.37 141.63L376.80 142.70" stroke="#2258d5" stroke-width="1.35"/>
<path d="M376.80 142.70L376.67 143.47" stroke="#223fd5" stroke-width="1.35"/>
<path d="M376.67 143.47L376.53 144.23" stroke="#222bd5" stroke-width="1.35"/>
<path d="M376.53 144.23L376.40 145.00" stroke="#2222d5" stroke-width="1.35"/>
<path d="M376.40 145.00L375.77 145.67" stroke="#2222c5" stroke-width="1.35"/>
<path d="M375.77 145.67L375.13 146.33" stroke="#2222b8" stroke-width="1.35"/>
<path d="M375.13 146.33L374.50 147.00" stroke="#2222a8" stroke-width="1.35"/>
<path d="M359.50 113.20L358.47 113.97" stroke="#2222d5" stroke-width="1.35"/>
<path d="M358.47 113.97L357.43 114.73" stroke="#2222d5" stroke-width="1.35"/>
<path d="M357.43 114.73L356.40 115.50" stroke="#2222ce" stroke-width="1.35"/>
<path d="M356.40 115.50L355.77 116.40" stroke="#2222d2" stroke-width="1.35"/>
<path d="M355.77 116.40L355.13 117.30" stroke="#2223d5" stroke-width="1.35"/>
<path d="M355.13 117.30L354.50 118.20" stroke="#222ed5" stroke-width="1.35"/>
<path d="M354.50 118.20L354.67 119.40" stroke="#224ad5" stroke-width="1.35"/>
<path d="M354.67 119.40L354.83 120.60" stroke="#227cd5" stroke-width="1.35"/>
<path d="M354.83 120.60L355.00 121.80" stroke="#22acd5" stroke-width="1.35"/>
<path d="M355.00 121.80L355.30 122.40" stroke="#26c8cb" stroke-width="1.35"/>
<path d="M355.30 122.40L355.60 123.00" stroke="#32d5c0" stroke-width="1.35"/>
<path d="M355.60 123.00L355.90 123.60" stroke="#3bd5b7" stroke-width="1.35"/>
<path d="M355.90 123.60L356.67 125.13" stroke="#3dd5b5" stroke-width="1.35"/>
<path d="M356.67 125.13L357.43 126.67" stroke="#38d5b9" stroke-width="1.35"/>
<path d="M357.43 126.67L358.20 128.20" stroke="#36d5bb" stroke-width="1.35"/>
<path d="M358.20 128.20L359.10 128.97" stroke="#22c2d0" stroke-width="1.35"/>
<path d="M359.10 128.97L360.00 129.73" stroke="#2298d5" stroke-width="1.35"/>
<path d="M360.00 129.73L360.90 130.50" stroke="#226cd5" stroke-width="1.35"/>
<path d="M360.90 130.50L361.20 130.80" stroke="#224ad5" stroke-width="1.35"/>
<path d="M361.20 130.80L361.50 131.10" stroke="#2234d5" stroke-width="1.35"/>
<path d="M361.50 131.10L361.80 131.40" stroke="#2222d5" stroke-width="1.35"/>
<path d="M372.70 137.30L374.53 137.13" stroke="#2231d5" stroke-width="1.35"/>
<path d="M374.53 137.13L376.37 136.97" stroke="#2228d5" stroke-width="1.35"/>
<path d="M376.37 136.97L378.20 136.80" stroke="#2223d5" stroke-width="1.35"/>
<path d="M378.20 136.80L380.00 136.73" stroke="#2223d5" stroke-width="1.35"/>
<path d="M380.00 136.73L381.80 136.67" stroke="#2228d5" stroke-width="1.35"/>
<path d="M381.80 136.67L383.60 136.60" stroke="#2231d5" stroke-width="1.35"/>
<path d="M383.60 136.60L385.73 136.83" stroke="#2239d5" stroke-width="1.35"/>
<path d="M385.73 136.83L387.87 137.07" stroke="#2244d5" stroke-width="1.35"/>
<path d="M387.87 137.07L390.00 137.30" stroke="#2252d5" stroke-width="1.35"/>
<path d="M390.00 137.30L391.97 138.40" stroke="#225ed5" stroke-width="1.35"/>
<path d="M391.97 138.40L393.93 139.50" stroke="#2269d5" stroke-width="1.35"/>
<path d="M393.93 139.50L395.90 140.60" stroke="#2274d5" stroke-width="1.35"/>
<path d="M395.90 140.60L394.40 141.00" stroke="#226ed5" stroke-width="1.35"/>
<path d="M394.40 141.00L392.90 141.40" stroke="#2258d5" stroke-width="1.35"/>
<path d="M392.90 141.40L391.40 141.80" stroke="#223fd5" stroke-width="1.35"/>
<path d="M391.40 141.80L388.97 142.27" stroke="#2231d5" stroke-width="1.35"/>
<path d="M388.97 142.27L386.53 142.73" stroke="#2228d5" stroke-width="1.35"/>
<path d="M386.53 142.73L384.10 143.20" stroke="#2223d5" stroke-width="1.35"/>
<path d="M384.10 143.20L382.27 143.63" stroke="#2222d5" stroke-width="1.35"/>
<path d="M382.27 143.63L380.43 144.07" stroke="#2222d5" stroke-width="1.35"/>
<path d="M380.43 144.07L378.60 144.50" stroke="#2222ce" stroke-width="1.35"/>
<path d="M378.60 144.50L377.87 144.67" stroke="#2222cb" stroke-width="1.35"/>
<path d="M377.87 144.67L377.13 144.83" stroke="#2222cb" stroke-width="1.35"/>
<path d="M377.13 144.83L376.40 145.00" stroke="#2222cb" stroke-width="1.35"/>
<path d="M389.10 107.70L390.00 107.50" stroke="#22acd5" stroke-width="1.35"/>
<path d="M390.00 107.50L390.90 107.30" stroke="#22c2d0" stroke-width="1.35"/>
<path d="M390.90 107.30L391.80 107.10" stroke="#36d5bb" stroke-width="1.35"/>
<path d="M391.80 107.10L393.03 107.30" stroke="#48d5a9" stroke-width="1.35"/>
<path d="M393.03 107.30L394.27 107.50" stroke="#5dd595" stroke-width="1.35"/>
<path d="M394.27 107.50L395.50 107.70" stroke="#6fd583" stroke-width="1.35"/>
<path d="M395.50 107.70L396.53 108.00" stroke="#73d57e" stroke-width="1.35"/>
<path d="M396.53 108.00L397.57 108.30" stroke="#6ad587" stroke-width="1.35"/>
<path d="M397.57 108.30L398.60 108.60" stroke="#61d591" stroke-width="1.35"/>
<path d="M398.60 108.60L399.23 109.37" stroke="#58d59a" stroke-width="1.35"/>
<path d="M399.23 109.37L399.87 110.13" stroke="#4dd5a5" stroke-width="1.35"/>
<path d="M399.87 110.13L400.50 110.90" stroke="#44d5ae" stroke-width="1.35"/>
<path d="M400.50 110.90L400.80 112.10" stroke="#44d5ae" stroke-width="1.35"/>
<path d="M400.80 112.10L401.10 113.30" stroke="#4dd5a5" stroke-width="1.35"/>
<path d="M401.10 113.30L401.40 114.50" stroke="#58d59a" stroke-width="1.35"/>
<path d="M401.40 114.50L401.40 116.33" stroke="#66d58c" stroke-width="1.35"/>
<path d="M401.40 116.33L401.40 118.17" stroke="#7ad578" stroke-width="1.35"/>
<path d="M401.40 118.17L401.40 120.00" stroke="#8cd566" stroke-width="1.35"/>
<path d="M401.40 120.00L401.23 122.33" stroke="#91d561" stroke-width="1.35"/>
<path d="M401.23 122.33L401.07 124.67" stroke="#87d56a" stroke-width="1.35"/>
<path d="M401.07 124.67L400.90 127.00" stroke="#7ed573" stroke-width="1.35"/>
<path d="M400.90 127.00L400.60 128.30" stroke="#73d57e" stroke-width="1.35"/>
<path d="M400.60 128.30L400.30 129.60" stroke="#6ad587" stroke-width="1.35"/>
<path d="M400.30 129.60L400.00 130.90" stroke="#61d591" stroke-width="1.35"/>
<path d="M400.00 130.90L399.83 133.33" stroke="#4dd5a5" stroke-width="1.35"/>
<path d="M399.83 133.33L399.67 135.77" stroke="#32d5c0" stroke-width="1.35"/>
<path d="M399.67 135.77L399.50 138.20" stroke="#22b2d5" stroke-width="1.35"/>
<path d="M399.50 138.20L399.50 139.13" stroke="#228dd5" stroke-width="1.35"/>
<path d="M399.50 139.13L399.50 140.07" stroke="#2269d5" stroke-width="1.35"/>
<path d="M399.50 140.07L399.50 141.00" stroke="#2244d5" stroke-width="1.35"/>
<path d="M399.50 141.00L399.50 142.00" stroke="#224ad5" stroke-width="1.35"/>
<path d="M399.50 142.00L399.50 143.00" stroke="#227cd5" stroke-width="1.35"/>
<path d="M399.50 143.00L399.50 144.00" stroke="#22acd5" stroke-width="1.35"/>
<path d="M399.50 144.00L400.03 144.70" stroke="#32d5c0" stroke-width="1.35"/>
<path d="M400.03 144.70L400.57 145.40" stroke="#4dd5a5" stroke-width="1.35"/>
<path d="M400.57 145.40L401.10 146.10" stroke="#6ad587" stroke-width="1.35"/>
<path d="M401.10 146.10L402.43 146.77" stroke="#85d56c" stroke-width="1.35"/>
<path d="M402.43 146.77L403.77 147.43" stroke="#9cd556" stroke-width="1.35"/>
<path d="M403.77 147.43L405.10 148.10" stroke="#b2d53f" stroke-width="1.35"/>
<path d="M405.10 148.10L406.43 149.27" stroke="#c7d52b" stroke-width="1.35"/>
<path d="M406.43 149.27L407.77 150.43" stroke="#d4c822" stroke-width="1.35"/>
<path d="M407.77 150.43L409.10 151.60" stroke="#d5b622" stroke-width="1.35"/>
<path d="M409.10 151.60L410.80 152.60" stroke="#d59c22" stroke-width="1.35"/>
<path d="M410.80 152.60L412.50 153.60" stroke="#d57b22" stroke-width="1.35"/>
<path d="M412.50 153.60L414.20 154.60" stroke="#d55922" stroke-width="1.35"/>
<path d="M414.20 154.60L416.57 155.13" stroke="#d54922" stroke-width="1.35"/>
<path d="M416.57 155.13L418.93 155.67" stroke="#d54922" stroke-width="1.35"/>
<path d="M418.93 155.67L421.30 156.20" stroke="#d54922" stroke-width="1.35"/>
<path d="M421.30 156.20L423.97 156.70" stroke="#d55422" stroke-width="1.35"/>
<path d="M423.97 156.70L426.63 157.20" stroke="#d56b22" stroke-width="1.35"/>
<path d="M426.63 157.20L429.30 157.70" stroke="#d58022" stroke-width="1.35"/>
<path d="M429.30 157.70L432.00 158.20" stroke="#d59722" stroke-width="1.35"/>
<path d="M432.00 158.20L434.70 158.70" stroke="#d5ac22" stroke-width="1.35"/>
<path d="M434.70 158.70L437.40 159.20" stroke="#d5c322" stroke-width="1.35"/>
<path d="M437.40 159.20L439.77 159.53" stroke="#bbd536" stroke-width="1.35"/>
<path d="M439.77 159.53L442.13 159.87" stroke="#95d55d" stroke-width="1.35"/>
<path d="M442.13 159.87L444.50 160.20" stroke="#6fd583" stroke-width="1.35"/>
<path d="M444.50 160.20L445.17 158.87" stroke="#6ad587" stroke-width="1.35"/>
<path d="M445.17 158.87L445.83 157.53" stroke="#87d56a" stroke-width="1.35"/>
<path d="M445.83 157.53L446.50 156.20" stroke="#a5d54d" stroke-width="1.35"/>
<path d="M446.50 156.20L446.17 155.17" stroke="#b5d53d" stroke-width="1.35"/>
<path d="M446.17 155.17L445.83 154.13" stroke="#b9d538" stroke-width="1.35"/>
<path d="M445.83 154.13L445.50 153.10" stroke="#bbd536" stroke-width="1.35"/>
<path d="M445.50 153.10L443.83 152.10" stroke="#bbd536" stroke-width="1.35"/>
<path d="M443.83 152.10L442.17 151.10" stroke="#b9d538" stroke-width="1.35"/>
<path d="M442.17 151.10L440.50 150.10" stroke="#b5d53d" stroke-width="1.35"/>
<path d="M440.50 150.10L438.13 149.10" stroke="#aed544" stroke-width="1.35"/>
<path d="M438.13 149.10L435.77 148.10" stroke="#a5d54d" stroke-width="1.35"/>
<path d="M435.77 148.10L433.40 147.10" stroke="#9ad558" stroke-width="1.35"/>
<path d="M433.40 147.10L431.03 146.23" stroke="#8cd566" stroke-width="1.35"/>
<path d="M431.03 146.23L428.67 145.37" stroke="#7ad578" stroke-width="1.35"/>
<path d="M428.67 145.37L426.30 144.50" stroke="#66d58c" stroke-width="1.35"/>
<path d="M426.30 144.50L425.47 144.17" stroke="#51d5a0" stroke-width="1.35"/>
<path d="M425.47 144.17L424.63 143.83" stroke="#3fd5b2" stroke-width="1.35"/>
<path d="M424.63 143.83L423.80 143.50" stroke="#2bcec7" stroke-width="1.35"/>
<path d="M423.80 143.50L424.30 142.83" stroke="#22b2d5" stroke-width="1.35"/>
<path d="M424.30 142.83L424.80 142.17" stroke="#228dd5" stroke-width="1.35"/>
<path d="M424.80 142.17L425.30 141.50" stroke="#2269d5" stroke-width="1.35"/>
<path d="M425.30 141.50L426.13 141.00" stroke="#225ed5" stroke-width="1.35"/>
<path d="M426.13 141.00L426.97 140.50" stroke="#2269d5" stroke-width="1.35"/>
<path d="M426.97 140.50L427.80 140.00" stroke="#2274d5" stroke-width="1.35"/>
<path d="M427.80 140.00L428.23 139.23" stroke="#229ed5" stroke-width="1.35"/>
<path d="M428.23 139.23L428.67 138.47" stroke="#3fd5b2" stroke-width="1.35"/>
<path d="M428.67 138.47L429.10 137.70" stroke="#7ad578" stroke-width="1.35"/>
<path d="M429.10 137.70L427.73 136.50" stroke="#a0d551" stroke-width="1.35"/>
<path d="M427.73 136.50L426.37 135.30" stroke="#b2d53f" stroke-width="1.35"/>
<path d="M426.37 135.30L425.00 134.10" stroke="#c7d52b" stroke-width="1.35"/>
<path d="M425.00 134.10L423.80 133.20" stroke="#d5c622" stroke-width="1.35"/>
<path d="M423.80 133.20L422.60 132.30" stroke="#d5b622" stroke-width="1.35"/>
<path d="M422.60 132.30L421.40 131.40" stroke="#d5a722" stroke-width="1.35"/>
<path d="M421.40 131.40L419.87 130.47" stroke="#d59222" stroke-width="1.35"/>
<path d="M419.87 130.47L418.33 129.53" stroke="#d57622" stroke-width="1.35"/>
<path d="M418.33 129.53L416.80 128.60" stroke="#d55622" stroke-width="1.35"/>
<path d="M416.80 128.60L415.00 127.70" stroke="#d53f22" stroke-width="1.35"/>
<path d="M415.00 127.70L413.20 126.80" stroke="#cb2822" stroke-width="1.35"/>
<path d="M413.20 126.80L411.40 125.90" stroke="#b22222" stroke-width="1.35"/>
<path d="M411.40 125.90L409.57 124.83" stroke="#a52222" stroke-width="1.35"/>
<path d="M409.57 124.83L407.73 123.77" stroke="#ab2222" stroke-width="1.35"/>
<path d="M407.73 123.77L405.90 122.70" stroke="#b22222" stroke-width="1.35"/>
<path d="M405.90 122.70L404.53 121.97" stroke="#b82222" stroke-width="1.35"/>
<path d="M404.53 121.97L403.17 121.23" stroke="#be2222" stroke-width="1.35"/>
<path d="M403.17 121.23L401.80 120.50" stroke="#c82522" stroke-width="1.35"/>
<path d="M401.80 120.50L400.30 119.73" stroke="#ce2a22" stroke-width="1.35"/>
<path d="M400.30 119.73L398.80 118.97" stroke="#d53022" stroke-width="1.35"/>
<path d="M398.80 118.97L397.30 118.20" stroke="#d53222" stroke-width="1.35"/>
<path d="M397.30 118.20L396.37 117.43" stroke="#d53c22" stroke-width="1.35"/>
<path d="M396.37 117.43L395.43 116.67" stroke="#d54922" stroke-width="1.35"/>
<path d="M395.43 116.67L394.50 115.90" stroke="#d55622" stroke-width="1.35"/>
<path d="M394.50 115.90L394.07 114.70" stroke="#d56122" stroke-width="1.35"/>
<path d="M394.07 114.70L393.63 113.50" stroke="#d56b22" stroke-width="1.35"/>
<path d="M393.63 113.50L393.20 112.30" stroke="#d57322" stroke-width="1.35"/>
<path d="M393.20 112.30L392.43 111.23" stroke="#d58022" stroke-width="1.35"/>
<path d="M392.43 111.23L391.67 110.17" stroke="#d59222" stroke-width="1.35"/>
<path d="M391.67 110.17L390.90 109.10" stroke="#d5a422" stroke-width="1.35"/>
<path d="M390.90 109.10L390.30 108.63" stroke="#c7d52b" stroke-width="1.35"/>
<path d="M390.30 108.63L389.70 108.17" stroke="#7ad578" stroke-width="1.35"/>
<path d="M389.70 108.17L389.10 107.70" stroke="#2bcec7" stroke-width="1.35"/>
<path d="M389.10 107.70 L385.00 108.60 L380.00 110.50 L371.40 112.10 L362.30 113.00 L359.50 113.20 L353.20 113.20 L346.80 113.60 L344.10 115.00 L342.70 116.80 L343.20 119.10 L345.90 121.80 L349.50 124.50 L353.20 127.00 L357.30 129.50 L361.80 131.40 L366.40 133.60 L370.00 135.90 L372.70 137.30 L375.50 139.50 L376.80 142.70 L376.40 145.00 L374.50 147.00" stroke="#000" stroke-opacity="0.38" stroke-width="1.0" stroke-dasharray="2.6 2" stroke-linecap="butt"/>
<path d="M359.50 113.20 L356.40 115.50 L354.50 118.20 L355.00 121.80 L355.90 123.60 L358.20 128.20 L360.90 130.50 L361.80 131.40" stroke="#000" stroke-opacity="0.38" stroke-width="1.0" stroke-dasharray="2.6 2" stroke-linecap="butt"/>
<path d="M372.70 137.30 L378.20 136.80 L383.60 136.60 L390.00 137.30 L395.90 140.60 L391.40 141.80 L384.10 143.20 L378.60 144.50 L376.40 145.00" stroke="#000" stroke-opacity="0.38" stroke-width="1.0" stroke-dasharray="2.6 2" stroke-linecap="butt"/>
<path d="M389.10 107.70 L391.80 107.10 L395.50 107.70 L398.60 108.60 L400.50 110.90 L401.40 114.50 L401.40 120.00 L400.90 127.00 L400.00 130.90 L399.50 138.20 L399.50 141.00 L399.50 144.00 L401.10 146.10 L405.10 148.10 L409.10 151.60 L414.20 154.60 L421.30 156.20 L429.30 157.70 L437.40 159.20 L444.50 160.20 L446.50 156.20 L445.50 153.10 L440.50 150.10 L433.40 147.10 L426.30 144.50 L423.80 143.50 L425.30 141.50 L427.80 140.00 L429.10 137.70 L425.00 134.10 L421.40 131.40 L416.80 128.60 L411.40 125.90 L405.90 122.70 L401.80 120.50 L397.30 118.20 L394.50 115.90 L393.20 112.30 L390.90 109.10 L389.10 107.70" stroke="#000" stroke-opacity="0.38" stroke-width="1.0" stroke-dasharray="2.6 2" stroke-linecap="butt"/>
</g>
<g transform="scale(1.574803)" font-family="'Liberation Serif', serif" font-size="14" fill="#000" style="stroke:none" text-anchor="middle">
<text style="stroke:none" x="137.1" y="289.6">(<tspan font-weight="bold">a</tspan>)</text>
<text style="stroke:none" x="418.2" y="289.6">(<tspan font-weight="bold">b</tspan>)</text>
</g></svg> 
</body></html>
